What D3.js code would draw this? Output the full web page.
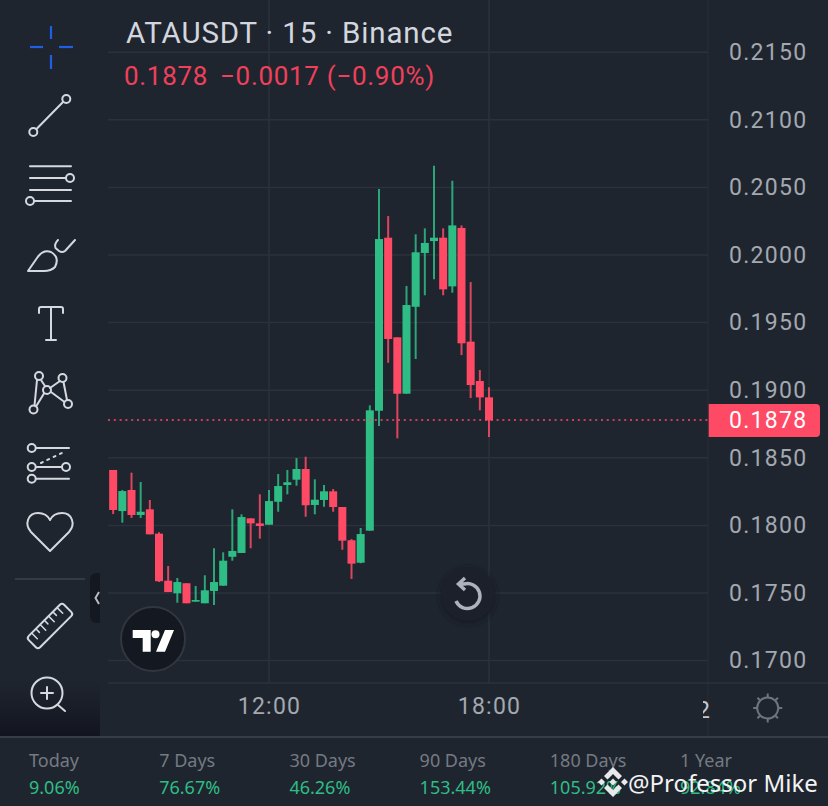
<!DOCTYPE html>
<html>
<head>
<meta charset="utf-8">
<script src="https://cdn.jsdelivr.net/npm/d3@7"></script>
<style>
html, body { margin: 0; padding: 0; background: #1f252f; overflow: hidden; }
svg { display: block; }
text { font-family: Roboto, "Noto Sans", sans-serif; }
.icon { fill: none; stroke: #d5d8de; stroke-width: 2; stroke-linecap: round; stroke-linejoin: round; }
</style>
</head>
<body>
<div id="chart"></div>
<script>
// candle values, one entry per 15 minute bar from 07:45
var opens = [0.18410, 0.18106, 0.18262, 0.18077, 0.18119, 0.17939, 0.17591, 0.17498, 0.17572, 0.17436, 0.17424, 0.17515, 0.17554, 0.17768,
    0.17796, 0.18052, 0.18015, 0.18005, 0.18175, 0.18299, 0.18338, 0.18417, 0.18151, 0.18188, 0.18252, 0.18136, 0.17890, 0.17724,
    0.17961, 0.18848, 0.20128, 0.19391, 0.18974, 0.19617, 0.20015, 0.20103, 0.20128, 0.19768, 0.20200, 0.19359, 0.19068, 0.18947];
var highs = [0.18410, 0.18262, 0.18390, 0.18321, 0.18188, 0.17949, 0.17700, 0.17611, 0.17572, 0.17552, 0.17631, 0.17831, 0.17801, 0.18119,
    0.18082, 0.18052, 0.18230, 0.18262, 0.18380, 0.18410, 0.18498, 0.18508, 0.18341, 0.18299, 0.18269, 0.18136, 0.17899, 0.17981,
    0.18888, 0.20488, 0.20288, 0.19391, 0.19771, 0.20153, 0.20197, 0.20660, 0.20197, 0.20549, 0.20219, 0.19800, 0.19149, 0.19021];
var lows = [0.18084, 0.18020, 0.18055, 0.18055, 0.17934, 0.17581, 0.17507, 0.17428, 0.17424, 0.17436, 0.17424, 0.17411, 0.17554, 0.17739,
    0.17796, 0.17831, 0.17902, 0.18005, 0.18101, 0.18230, 0.18294, 0.18064, 0.18082, 0.18138, 0.18101, 0.17820, 0.17604, 0.17720,
    0.17961, 0.18735, 0.19203, 0.18644, 0.18974, 0.19231, 0.19702, 0.19820, 0.19702, 0.19721, 0.19260, 0.18942, 0.18851, 0.18654];
var closes = [0.18114, 0.18254, 0.18077, 0.18101, 0.17934, 0.17587, 0.17507, 0.17581, 0.17424, 0.17448, 0.17520, 0.17581, 0.17739, 0.17811,
    0.18062, 0.18015, 0.17996, 0.18180, 0.18291, 0.18319, 0.18417, 0.18149, 0.18190, 0.18252, 0.18136, 0.17887, 0.17717, 0.17936,
    0.18851, 0.20118, 0.19379, 0.18974, 0.19630, 0.20020, 0.20089, 0.20128, 0.19746, 0.20219, 0.19347, 0.19038, 0.18947, 0.18777];

var priceTicks = [0.17, 0.175, 0.18, 0.185, 0.19, 0.195, 0.2, 0.205, 0.21, 0.215];
var timeTicks = [new Date(2021, 0, 1, 12, 0), new Date(2021, 0, 1, 18, 0)];
var lastPrice = 0.1878;

var statLabels = ["Today", "7 Days", "30 Days", "90 Days", "180 Days", "1 Year"];
var statValues = ["9.06%", "76.67%", "46.26%", "153.44%", "105.92%", "92.84%"];

var width = 828, height = 806;
var upCol = "#2ebd85", downCol = "#ff4a66", gridCol = "#2b323c", bg = "#1f252f";
var plot = {left: 108, right: 708, top: 0, bottom: 683};

var svg = d3.select("#chart").append("svg")
    .attr("width", width)
    .attr("height", height);

svg.append("rect").attr("width", width).attr("height", height).attr("fill", bg);

var startTime = new Date(2021, 0, 1, 7, 45);
var candleTime = function(i) { return d3.timeMinute.offset(startTime, i * 15); };

// 12:00 sits at x=269 and 18:00 at x=489
var x = d3.scaleTime().domain(timeTicks).range([269, 489]);
var y = d3.scaleLinear().domain([0.175, 0.215]).range([593, 52.2]);

// grid
var gridG = svg.append("g");
gridG.selectAll(".hgrid").data(priceTicks).enter().append("line")
    .attr("class", "hgrid")
    .attr("x1", plot.left).attr("x2", plot.right)
    .attr("y1", function(d) { return y(d); }).attr("y2", function(d) { return y(d); })
    .attr("stroke", gridCol).attr("stroke-width", 1.5);
gridG.selectAll(".vgrid").data(timeTicks).enter().append("line")
    .attr("class", "vgrid")
    .attr("x1", function(d) { return x(d); }).attr("x2", function(d) { return x(d); })
    .attr("y1", plot.top).attr("y2", plot.bottom)
    .attr("stroke", gridCol).attr("stroke-width", 1.5);
gridG.append("line").attr("x1", plot.right).attr("x2", plot.right).attr("y1", 0).attr("y2", 737)
    .attr("stroke", "#282e39").attr("stroke-width", 1);
gridG.append("line").attr("x1", plot.left).attr("x2", width).attr("y1", plot.bottom).attr("y2", plot.bottom)
    .attr("stroke", gridCol).attr("stroke-width", 1.5);

// candles
var candleG = svg.append("g");
var colorOf = function(i) { return closes[i] >= opens[i] ? upCol : downCol; };
candleG.selectAll(".wick").data(d3.range(opens.length)).enter().append("line")
    .attr("class", "wick")
    .attr("x1", function(i) { return x(candleTime(i)); })
    .attr("x2", function(i) { return x(candleTime(i)); })
    .attr("y1", function(i) { return y(highs[i]); })
    .attr("y2", function(i) { return y(lows[i]); })
    .attr("stroke", colorOf)
    .attr("stroke-opacity", 0.85)
    .attr("stroke-width", 2);
candleG.selectAll(".body").data(d3.range(opens.length)).enter().append("rect")
    .attr("class", "body")
    .attr("x", function(i) { return x(candleTime(i)) - 4; })
    .attr("width", 8)
    .attr("y", function(i) { return y(Math.max(opens[i], closes[i])); })
    .attr("height", function(i) { return Math.abs(y(opens[i]) - y(closes[i])); })
    .attr("fill", colorOf);

// last price line
svg.append("line")
    .attr("x1", plot.left).attr("x2", plot.right)
    .attr("y1", y(lastPrice)).attr("y2", y(lastPrice))
    .attr("stroke", downCol).attr("stroke-width", 1.5)
    .attr("stroke-dasharray", "2 3.8");

// axes
var yAxis = d3.axisRight(y).tickValues(priceTicks).tickFormat(d3.format(".4f")).tickSize(0).tickPadding(0);
var yG = svg.append("g").attr("transform", "translate(729,0)").call(yAxis);
yG.select(".domain").remove();
yG.selectAll("text")
    .style("font-size", "23px").style("letter-spacing", "1.3px").attr("fill", "#a4a8af");

var xAxis = d3.axisBottom(x).tickValues(timeTicks).tickFormat(d3.timeFormat("%H:%M")).tickSize(0).tickPadding(0);
var xG = svg.append("g").attr("transform", "translate(0,698)").call(xAxis);
xG.select(".domain").remove();
xG.selectAll("text")
    .style("font-size", "23px").style("letter-spacing", "1.2px").attr("fill", "#a4a8af");

// sliver of the next time label, cut off at the axis edge
svg.append("clipPath").attr("id", "nextTick").append("rect")
    .attr("x", 703).attr("y", 698).attr("width", 7).attr("height", 24);
svg.append("text").attr("x", 697).attr("y", 718)
    .attr("clip-path", "url(#nextTick)")
    .attr("fill", "#c6c9ce").style("font-size", "23px").text("2");

// price tag
svg.append("path")
    .attr("d", "M708.7,404 H816 Q820,404 820,408 V433 Q820,437 816,437 H708.7 Z")
    .attr("fill", downCol);
svg.append("text").attr("x", 729).attr("y", y(lastPrice)).attr("dy", "0.35em")
    .attr("fill", "#fff").style("font-size", "23px").style("letter-spacing", "1.3px")
    .text(d3.format(".4f")(lastPrice));

// title
svg.append("text").attr("x", 126).attr("y", 43).attr("fill", "#d3d6de")
    .style("font-size", "29.5px").style("letter-spacing", "0.85px").text("ATAUSDT · 15 · Binance");
var quote = svg.append("text").attr("x", 124).attr("y", 85).attr("fill", "#f0405a")
    .style("font-size", "26px").style("letter-spacing", "0.7px");
quote.append("tspan").text("0.1878");
quote.append("tspan").attr("x", 220).text("−0.0017 (−0.90%)");

// left toolbar shading near the bottom
var grad = svg.append("defs").append("linearGradient").attr("id", "toolFade")
    .attr("x1", 0).attr("x2", 0).attr("y1", 0).attr("y2", 1);
grad.append("stop").attr("offset", 0).attr("stop-color", bg);
grad.append("stop").attr("offset", 1).attr("stop-color", "#12151f");
svg.append("rect").attr("x", 0).attr("y", 680).attr("width", 100).attr("height", 56).attr("fill", "url(#toolFade)");

// toolbar icons
var icons = svg.append("g").attr("class", "icon");
function line(x1, y1, x2, y2) {
    icons.append("line").attr("x1", x1).attr("y1", y1).attr("x2", x2).attr("y2", y2);
}
function ring(cx, cy, r) {
    icons.append("circle").attr("cx", cx).attr("cy", cy).attr("r", r);
}
function path(d) {
    icons.append("path").attr("d", d);
}

// crosshair
[[51, 26, 51, 39], [51, 55, 51, 69], [30, 47, 43, 47], [59, 47, 73, 47]].forEach(function(c) {
    svg.append("line").attr("x1", c[0]).attr("y1", c[1]).attr("x2", c[2]).attr("y2", c[3])
        .attr("stroke", "#1f5fe6").attr("stroke-width", 2.2);
});

// trend line
ring(66.3, 99, 4); ring(33.3, 132, 4); line(36.5, 129, 63, 102);

// horizontal lines
line(30, 166.3, 71, 166.3);
line(30, 178, 66, 178); ring(70, 178, 4);
line(30, 190, 71, 190);
line(34, 201, 71, 201); ring(30, 201, 4);

// brush
path("M75,240 L65,251 Q62,253 59,251 L55.5,248 Q54,244 58,240");
path("M28,271 L37,258 Q43,249 51,252 Q60,257 55,267 Q51,271 44,271 Z");

// text
path("M39,313 V309 Q39,307 41,307 H61 Q63,307 63,309 V313");
line(51, 307, 51, 340); line(46, 340, 56, 340);

// network
ring(39, 376, 4); ring(62.5, 378, 4); ring(47, 390, 4); ring(33.5, 409.5, 4); ring(68, 404, 4);
line(41, 380, 45, 386); line(50, 388, 60, 381); line(37, 380, 34.5, 405.5);
line(44, 393.5, 36, 406.5); line(51, 392, 64.5, 402); line(63.5, 382, 67, 400);

// fib
ring(31.7, 448, 4); line(36, 448, 69, 448);
ring(31.7, 467, 4); ring(66, 467, 4); line(36, 467, 62, 467);
ring(31.7, 478.7, 4); line(36, 478.7, 69, 478.7);
icons.append("line").attr("x1", 41).attr("y1", 463).attr("x2", 66).attr("y2", 451)
    .attr("stroke-dasharray", "2 5");

// heart
path("M50,551 L31,532 C24,524 28,513 38,513 C44,513 48,516 50,520 C52,516 56,513 62,513 C72,513 76,524 69,532 Z");

// ruler
var ruler = icons.append("g").attr("transform", "translate(50,626) rotate(-45)");
ruler.append("rect").attr("x", -25).attr("y", -8).attr("width", 50).attr("height", 16).attr("rx", 3);
d3.range(-18, 21, 6).forEach(function(t, k) {
    ruler.append("line").attr("x1", t).attr("x2", t).attr("y1", -8).attr("y2", k % 2 ? -3 : 0).attr("stroke-width", 1.5);
});

// zoom
ring(47, 693, 15.5); line(41, 693, 53, 693); line(47, 687, 47, 699); line(58, 705, 65, 711);

// separator and collapse tab
svg.append("line").attr("x1", 15).attr("x2", 85).attr("y1", 579).attr("y2", 579)
    .attr("stroke", "#3d434d").attr("stroke-width", 1.5);
svg.append("path").attr("d", "M100,573 H97 Q90,573 90,580 V616 Q90,623 97,623 H100 Z").attr("fill", "#141821");
svg.append("path").attr("d", "M99,592 L95.5,598 L99,604").attr("fill", "none").attr("stroke", "#b8bbc1").attr("stroke-width", 2);

// tradingview badge
svg.append("circle").attr("cx", 153).attr("cy", 639).attr("r", 32)
    .attr("fill", "#141821").attr("stroke", "#31363f").attr("stroke-width", 2);
svg.append("path").attr("fill", "#fff")
    .attr("d", "M132.7,630 H150.7 V651.7 H142.7 V638 H132.7 Z M165,630 H174 L165,651.7 H156 Z");
svg.append("circle").attr("cx", 155.5).attr("cy", 634.2).attr("r", 4).attr("fill", "#fff");

// reset button
var shadow = svg.append("defs").append("filter").attr("id", "soft")
    .attr("x", "-30%").attr("y", "-30%").attr("width", "160%").attr("height", "160%");
shadow.append("feGaussianBlur").attr("stdDeviation", 2.5);
svg.append("circle").attr("cx", 468).attr("cy", 596).attr("r", 28).attr("fill", "#171b24").attr("filter", "url(#soft)");
svg.append("circle").attr("cx", 468).attr("cy", 594).attr("r", 27).attr("fill", "#1b202a");
svg.append("path").attr("fill", "none").attr("stroke", "#aeb2ba").attr("stroke-width", 3.5)
    .attr("d", "M459,584 H464 A12.5,12.5 0 1 1 456,601 M465,578 L458.5,584 L465,590");

// settings sun
var sun = svg.append("g").attr("transform", "translate(767.7,708)")
    .attr("fill", "none").attr("stroke", "#6f747c").attr("stroke-width", 2);
sun.append("circle").attr("r", 10.5);
d3.range(8).forEach(function(k) {
    var a = k * Math.PI / 4;
    sun.append("line")
        .attr("x1", 10.5 * Math.cos(a)).attr("y1", 10.5 * Math.sin(a))
        .attr("x2", 14.5 * Math.cos(a)).attr("y2", 14.5 * Math.sin(a));
});

// footer stats
svg.append("line").attr("x1", 0).attr("x2", width).attr("y1", 737).attr("y2", 737)
    .attr("stroke", "#373d48").attr("stroke-width", 2);
var statX = d3.scalePoint().domain(statLabels).range([29, 680]);
svg.selectAll(".statLabel").data(statLabels).enter().append("text")
    .attr("class", "statLabel")
    .attr("x", function(d) { return statX(d); }).attr("y", 767)
    .attr("fill", "#757a82")
    .style("font-family", "'Noto Sans', sans-serif").style("font-size", "18px")
    .text(function(d) { return d; });
svg.selectAll(".statValue").data(statValues).enter().append("text")
    .attr("class", "statValue")
    .attr("x", function(d, i) { return statX(statLabels[i]); }).attr("y", 794)
    .attr("fill", upCol)
    .style("font-family", "'Noto Sans', sans-serif").style("font-size", "18px")
    .text(function(d) { return d; });

// watermark
var mark = svg.append("g").attr("transform", "translate(613,782)").attr("fill", "#e8e9ea");
mark.append("path").attr("d", "M0,-15 L9,-6 L5.5,-2.5 L0,-8 L-5.5,-2.5 L-9,-6 Z");
mark.append("path").attr("d", "M0,15 L9,6 L5.5,2.5 L0,8 L-5.5,2.5 L-9,6 Z");
mark.append("path").attr("d", "M-15,0 L-11.5,-3.5 L-8,0 L-11.5,3.5 Z");
mark.append("path").attr("d", "M15,0 L11.5,-3.5 L8,0 L11.5,3.5 Z");
mark.append("path").attr("d", "M0,-3.5 L3.5,0 L0,3.5 L-3.5,0 Z");
svg.append("text").attr("x", 628).attr("y", 792).attr("fill", "#f2f3f4")
    .style("font-family", "'Noto Sans', sans-serif").style("font-size", "24px")
    .text("@Professor Mike");
</script>
</body>
</html>
